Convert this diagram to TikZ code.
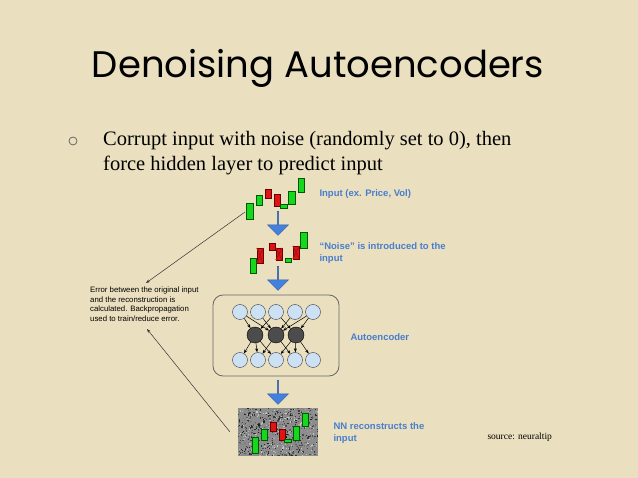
\documentclass[tikz,border=0pt]{standalone}
\usepackage{fontspec}
\setmainfont{Liberation Serif}
\setsansfont{Liberation Sans}
\newfontfamily\titlefont{Poppins}
\usetikzlibrary{shapes.arrows,arrows.meta}
\definecolor{paper}{RGB}{234,224,192}
\definecolor{lbl}{RGB}{72,125,205}
\definecolor{arr}{RGB}{68,128,222}
\definecolor{gn}{RGB}{20,215,30}
\definecolor{rd}{RGB}{225,20,20}
\definecolor{nodeblue}{RGB}{205,225,245}
\tikzset{
 gc/.style={fill=gn,draw=green!35!black,line width=0.5pt},
 rc/.style={fill=rd,draw=red!40!black,line width=0.5pt},
 blockarrow/.style={single arrow,shape border rotate=270,fill=arr,draw=arr!70!black,minimum height=24pt,minimum width=21pt,single arrow head extend=3pt,inner sep=0pt},
 lab/.style={font=\sffamily\bfseries\fontsize{9.5}{12}\selectfont,text=lbl,align=left,anchor=west},
 vis/.style={circle,draw=black!75,fill=nodeblue,minimum size=15pt,inner sep=0pt},
 hid/.style={circle,draw=black,fill=black!70,minimum size=16pt,inner sep=0pt},
 cx/.style={-{Stealth[length=4pt]},line width=0.5pt},
 xmark/.style={draw=rd!80!black,line width=1.2pt}
}
\begin{document}
\begin{tikzpicture}[x=1pt,y=-1pt]
\fill[paper] (0,0) rectangle (638,478);
\useasboundingbox (0,0) rectangle (638,478);
\node[font=\titlefont\fontsize{37}{40}\selectfont] (title) at (318,68) {Denoising Autoencoders};
\node[circle,draw=black!60,line width=0.8pt,minimum size=8pt,inner sep=0pt] (bul) at (73,141) {};
\node[anchor=north west,align=left,font=\fontsize{20.5}{25}\selectfont,inner sep=0pt] (txt) at (103,131) {Corrupt input with noise (randomly set to 0), then\\force hidden layer to predict input};
% input candles
\draw[gc] (246,203) rectangle (253,219);
\draw[gc] (256,195) rectangle (262,205);
\draw[rc] (265,189) rectangle (271,198);
\draw[rc] (274,194) rectangle (280,206);
\draw[gc] (280,204) rectangle (287,208);
\draw[gc] (288,191) rectangle (295,204);
\draw[gc] (298,178) rectangle (304,192);
\coordinate (inp) at (245,212);
\node[lab] (l1) at (316,194) {Input (ex. Price, Vol)};
\node[blockarrow] (a1) at (278,223) {};
% noise candles
\draw[gc] (250,258) rectangle (256,273);
\draw[rc] (257,248) rectangle (263,263);
\draw[xmark] (257,248) -- (263,263) (263,248) -- (257,263);
\draw[rc] (269,243) rectangle (275,250);
\draw[rc] (276,248) rectangle (282,260);
\draw[xmark] (276,248) -- (282,260) (282,248) -- (276,260);
\draw[gc] (285,258) rectangle (291,262);
\draw[rc] (293,246) rectangle (299,259);
\draw[xmark] (293,246) -- (299,259) (299,246) -- (293,259);
\draw[gc] (300,232) rectangle (307,248);
\node[lab] (l2) at (316,253) {``Noise'' is introduced to the\\input};
\node[blockarrow] (a2) at (278,278) {};
% autoencoder box
\draw[rounded corners=10pt,draw=black!60,line width=0.8pt] (213,295) rectangle (339,376);
\foreach \i/\x in {1/240,2/258,3/276,4/295,5/313}{
  \node[vis] (t\i) at (\x,312) {};
  \node[vis] (b\i) at (\x,360) {};
}
\foreach \i/\x in {1/255,2/276,3/296}{ \node[hid] (h\i) at (\x,335) {}; }
\foreach \s/\t in {t1/h1,t2/h2,t3/h1,t3/h3,t4/h2,t5/h3,t1/h2,t5/h2}{ \draw[cx] (\s) -- (\t); }
\foreach \s/\t in {h1/b1,h1/b3,h2/b2,h2/b4,h3/b3,h3/b5,h1/b2,h3/b4}{ \draw[cx] (\s) -- (\t); }
\node[lab] (l3) at (347,337) {Autoencoder};
\node[blockarrow] (a3) at (278,392) {};
% reconstruction image
\fill[black!45] (238,408) rectangle (318,456);
\pgfmathsetseed{7}
\foreach \k in {1,...,900}{
  \pgfmathsetmacro{\px}{238+79*rnd}
  \pgfmathsetmacro{\py}{408+47*rnd}
  \pgfmathsetmacro{\g}{int(20+70*rnd)}
  \fill[black!\g] (\px,\py) rectangle ++(1.2,1.2);
}
\node[inner sep=0pt,minimum width=80pt,minimum height=48pt] (img) at (278,432) {};
\draw[gc] (252,437) rectangle (258,453);
\draw[gc] (261,429) rectangle (267,440);
\draw[rc] (270,422) rectangle (276,431);
\draw[rc] (279,429) rectangle (285,440);
\draw[gc] (284,439) rectangle (291,442);
\draw[gc] (293,426) rectangle (299,440);
\draw[gc] (302,413) rectangle (308,426);
\node[lab] (l4) at (330,433) {NN reconstructs the\\input};
\node[anchor=west,font=\fontsize{9.5}{11}\selectfont] (src) at (484,437) {source: neuraltip};
% error text
\node[anchor=north west,align=left,inner sep=0pt,font=\sffamily\fontsize{7.8}{9.5}\selectfont] (err) at (90,287) {Error between the original input\\and the reconstruction is\\calculated. Backpropagation\\used to train/reduce error.};
\coordinate (e1) at (146,283);
\coordinate (e2) at (147,329);
\coordinate (rec) at (230,432);
\draw[cx,black!80] (inp) -- (e1);
\draw[cx,black!80] (rec) -- (e2);
\end{tikzpicture}
\end{document}
